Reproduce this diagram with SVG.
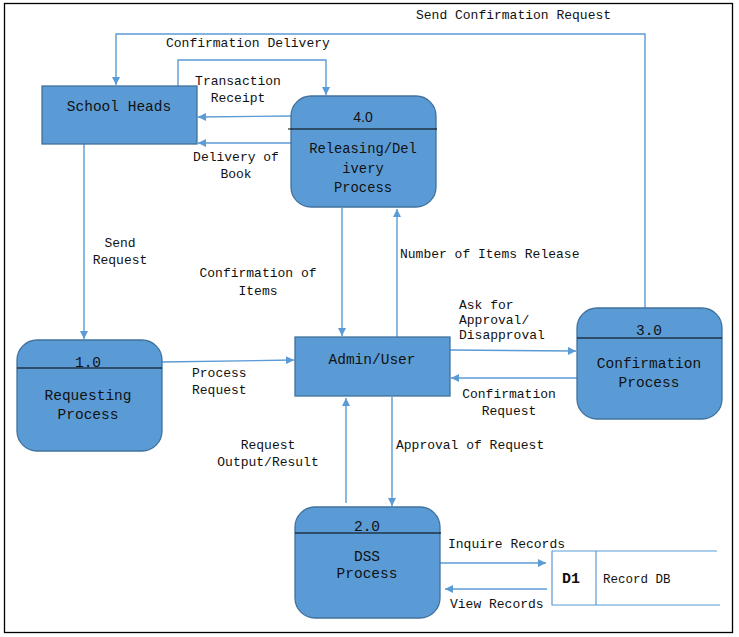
<svg xmlns="http://www.w3.org/2000/svg" width="739" height="637" viewBox="0 0 739 637">
<style>
.node{fill:#5B9BD5;stroke:#41719C;stroke-width:1.3}
.div{stroke:#000;stroke-width:1.2}
.c{fill:none;stroke:#5B9BD5;stroke-width:1.4}
.t{font-family:"Liberation Mono","Courier New",monospace;font-size:14.5px;fill:#111}
.l{font-family:"Liberation Mono","Courier New",monospace;font-size:13px;fill:#111}
.m{text-anchor:middle}
.ds{fill:none;stroke:#5B9BD5;stroke-width:1.2}
</style>
<defs>
<marker id="a" viewBox="0 0 10 10" refX="10" refY="5" markerWidth="8" markerHeight="8" markerUnits="userSpaceOnUse" orient="auto">
<path d="M0,0 L10,5 L0,10 z" fill="#5B9BD5"/>
</marker>
</defs>
<rect x="0" y="0" width="739" height="637" fill="#fff"/>
<rect x="4.5" y="3.5" width="728" height="629" fill="none" stroke="#000" stroke-width="1.3"/>

<g id="connectors">
<polyline class="c" points="645,308 645,34 116,34 116,85" marker-end="url(#a)"/>
<polyline class="c" points="178,86 178,60 326,60 326,95" marker-end="url(#a)"/>
<line class="c" x1="291" y1="116" x2="198" y2="117" marker-end="url(#a)"/>
<line class="c" x1="291" y1="143" x2="198" y2="143" marker-end="url(#a)"/>
<line class="c" x1="84" y1="144" x2="84" y2="339" marker-end="url(#a)"/>
<line class="c" x1="162" y1="362" x2="294" y2="360" marker-end="url(#a)"/>
<line class="c" x1="342" y1="208" x2="342" y2="336" marker-end="url(#a)"/>
<line class="c" x1="397" y1="337" x2="397" y2="209" marker-end="url(#a)"/>
<line class="c" x1="450" y1="350" x2="576" y2="351" marker-end="url(#a)"/>
<line class="c" x1="577" y1="378" x2="451" y2="378" marker-end="url(#a)"/>
<line class="c" x1="346" y1="503" x2="346" y2="398" marker-end="url(#a)"/>
<line class="c" x1="392" y1="397" x2="392" y2="506" marker-end="url(#a)"/>
<line class="c" x1="440" y1="563" x2="546" y2="563" marker-end="url(#a)"/>
<line class="c" x1="547" y1="589" x2="445" y2="589" marker-end="url(#a)"/>
</g>

<g id="labels">
<text class="l" x="416" y="19">Send Confirmation Request</text>
<text class="l" x="166" y="47">Confirmation Delivery</text>
<text class="l m" x="238" y="85">Transaction</text>
<text class="l m" x="238" y="102">Receipt</text>
<text class="l m" x="236" y="161">Delivery of</text>
<text class="l m" x="236" y="178">Book</text>
<text class="l m" x="120" y="247">Send</text>
<text class="l m" x="120" y="264">Request</text>
<text class="l m" x="258" y="277">Confirmation of</text>
<text class="l m" x="258" y="295">Items</text>
<text class="l" x="400" y="258">Number of Items Release</text>
<text class="l" x="459" y="309">Ask for</text>
<text class="l" x="459" y="324">Approval/</text>
<text class="l" x="459" y="339">Disapproval</text>
<text class="l" x="192" y="377">Process</text>
<text class="l" x="192" y="394">Request</text>
<text class="l m" x="509" y="398">Confirmation</text>
<text class="l m" x="509" y="415">Request</text>
<text class="l m" x="268" y="449">Request</text>
<text class="l m" x="268" y="466">Output/Result</text>
<text class="l" x="396" y="449">Approval of Request</text>
<text class="l" x="448" y="548">Inquire Records</text>
<text class="l" x="450" y="608">View Records</text>
</g>

<g id="school-heads">
<rect class="node" x="42" y="86" width="155" height="58"/>
<text class="t m" x="119" y="111">School Heads</text>
</g>

<g id="p4">
<rect class="node" x="291" y="96" width="145" height="111" rx="20"/>
<line class="div" x1="288" y1="129" x2="437" y2="129"/>
<text class="m" x="363" y="122" font-family="Liberation Sans, Arial, sans-serif" font-size="14" fill="#111">4.0</text>
<text class="t m" x="363" y="153" style="font-size:13.8px">Releasing/Del</text>
<text class="t m" x="363" y="173" style="font-size:13.8px">ivery</text>
<text class="t m" x="363" y="192" style="font-size:13.8px">Process</text>
</g>

<g id="p1">
<rect class="node" x="17" y="340" width="145" height="111" rx="20"/>
<line class="div" x1="17" y1="368" x2="162" y2="368"/>
<text class="t m" x="88" y="367">1.0</text>
<text class="t m" x="88" y="400">Requesting</text>
<text class="t m" x="88" y="419">Process</text>
</g>

<g id="admin">
<rect class="node" x="295" y="337" width="155" height="59"/>
<text class="t m" x="372" y="364">Admin/User</text>
</g>

<g id="p3">
<rect class="node" x="577" y="308" width="145" height="111" rx="20"/>
<line class="div" x1="577" y1="338" x2="722" y2="338"/>
<text class="t m" x="649" y="335">3.0</text>
<text class="t m" x="649" y="368">Confirmation</text>
<text class="t m" x="649" y="387">Process</text>
</g>

<g id="p2">
<rect class="node" x="295" y="507" width="145" height="111" rx="20"/>
<line class="div" x1="295" y1="533" x2="441" y2="533"/>
<text class="t m" x="367" y="531">2.0</text>
<text class="t m" x="367" y="561">DSS</text>
<text class="t m" x="367" y="578">Process</text>
</g>

<g id="d1">
<polyline class="ds" points="717,551 552,551 552,605 720,605"/>
<line class="ds" x1="596" y1="551" x2="596" y2="605"/>
<text x="562" y="583" font-family="Liberation Mono, Courier New, monospace" font-size="15" font-weight="bold" fill="#111">D1</text>
<text x="603" y="583" font-family="Liberation Mono, Courier New, monospace" font-size="12.5" fill="#111">Record DB</text>
</g>
</svg>
